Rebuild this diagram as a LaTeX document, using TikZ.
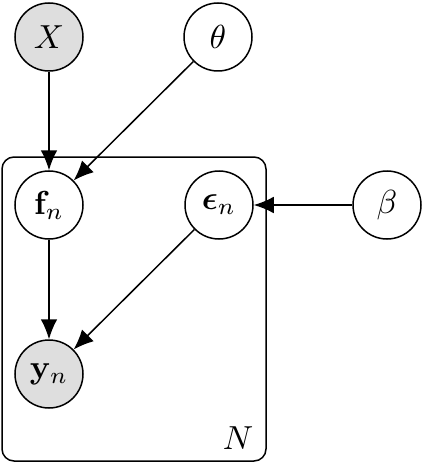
\documentclass[tikz,border=0pt]{standalone}
\usepackage{amsmath,amssymb,bm}
\usetikzlibrary{arrows.meta}
\begin{document}
\begin{tikzpicture}[x=0.3pt,y=-0.3pt,
  latentnode/.style={circle,draw,line width=0.45pt,minimum size=20.4pt,inner sep=0pt},
  obsnode/.style={latentnode,fill=black!13},
  edge/.style={-{Latex[length=6pt,width=5pt]},line width=0.45pt},
  plate/.style={draw,rounded corners=3.6pt,line width=0.45pt}]
\useasboundingbox (0,0) rectangle (426,464);
\draw[plate] (2,157) rectangle (266,461);
\node (N) at (238,438) {$N$};
\node[obsnode] (X) at (49,37) {$X$};
\node[latentnode] (theta) at (218,37) {$\theta$};
\node[latentnode] (f) at (49,205) {$\mathbf{f}_n$};
\node[latentnode] (eps) at (219,205) {$\bm{\epsilon}_n$};
\node[latentnode] (beta) at (387,205) {$\beta$};
\node[obsnode] (y) at (49,374) {$\mathbf{y}_n$};
\draw[edge] (X) -- (f);
\draw[edge] (theta) -- (f);
\draw[edge] (beta) -- (eps);
\draw[edge] (f) -- (y);
\draw[edge] (eps) -- (y);
\end{tikzpicture}
\end{document}
